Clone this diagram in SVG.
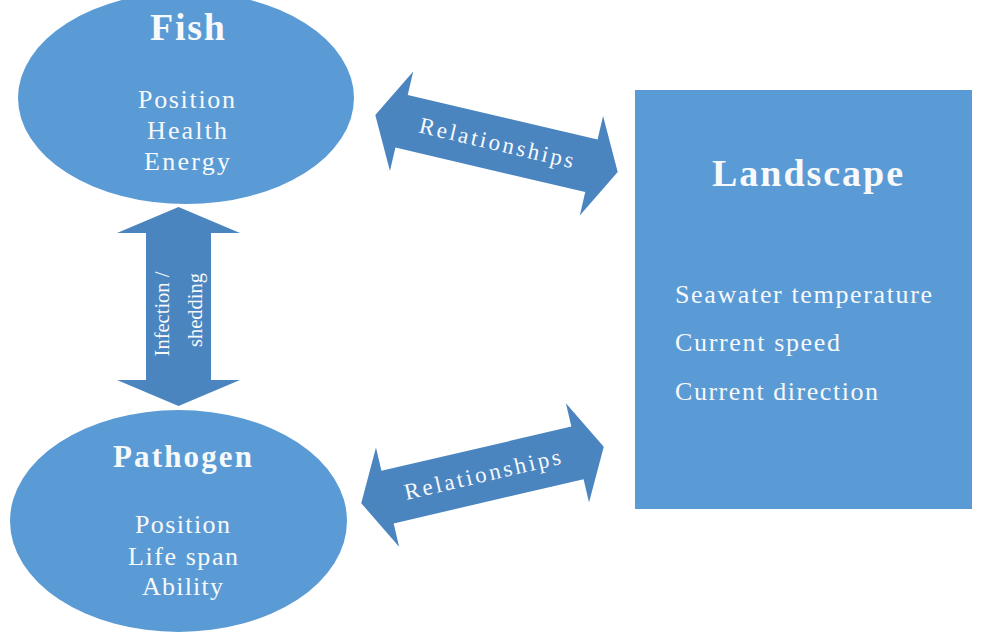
<svg xmlns="http://www.w3.org/2000/svg" width="982" height="636" viewBox="0 0 982 636">
  <defs>
    <style>
      .node { fill: #5b9bd5; }
      .conn { fill: #4a85c0; }
      text { font-family: "Liberation Serif", "Times New Roman", serif; fill: #f7f9fb; }
      .title { font-weight: bold; text-anchor: middle; }
      .body { font-size: 26px; text-anchor: middle; }
      .lbody { font-size: 26px; text-anchor: start; }
      .clabel { font-size: 23px; text-anchor: middle; }
      .vlabel { font-size: 20.5px; text-anchor: middle; }
    </style>
    <path id="diagArrow" d="M -124.5 0 L -97.5 -51 L -97.5 -27 L 97.5 -27 L 97.5 -51 L 124.5 0 L 97.5 51 L 97.5 27 L -97.5 27 L -97.5 51 Z"/>
  </defs>
  <rect width="982" height="636" fill="#ffffff"/>

  <g id="connectors">
    <g id="conn-fish-landscape" transform="translate(496.5 143.5) rotate(13.2)">
      <use href="#diagArrow" class="conn"/>
      <text class="clabel" x="0" y="7" textLength="158" lengthAdjust="spacing">Relationships</text>
    </g>
    <g id="conn-pathogen-landscape" transform="translate(482.5 475) rotate(-13.1)">
      <use href="#diagArrow" class="conn"/>
      <text class="clabel" x="0" y="7" textLength="160" lengthAdjust="spacing">Relationships</text>
    </g>
    <g id="conn-fish-pathogen">
      <path class="conn" d="M 178.5 207 L 240 233 L 211 233 L 211 380 L 240 380 L 178.5 406 L 117 380 L 146 380 L 146 233 L 117 233 Z"/>
      <text class="vlabel" transform="translate(169 314) rotate(-90)" x="0" y="0">Infection /</text>
      <text class="vlabel" transform="translate(202 310) rotate(-90)" x="0" y="0">shedding</text>
    </g>
  </g>

  <g id="fish">
    <ellipse class="node" cx="186" cy="98" rx="168" ry="106"/>
    <text class="title" x="187.5" y="40" font-size="38" textLength="75" lengthAdjust="spacing">Fish</text>
    <text class="body" x="186.5" y="108" textLength="97" lengthAdjust="spacing">Position</text>
    <text class="body" x="187" y="139" textLength="80" lengthAdjust="spacing">Health</text>
    <text class="body" x="187" y="170" textLength="86" lengthAdjust="spacing">Energy</text>
  </g>

  <g id="pathogen">
    <ellipse class="node" cx="178.5" cy="521" rx="168.5" ry="111"/>
    <text class="title" x="182.5" y="467" font-size="31" textLength="139" lengthAdjust="spacing">Pathogen</text>
    <text class="body" x="182.5" y="533" textLength="95" lengthAdjust="spacing">Position</text>
    <text class="body" x="183" y="565" textLength="110" lengthAdjust="spacing">Life span</text>
    <text class="body" x="182.5" y="595" textLength="81" lengthAdjust="spacing">Ability</text>
  </g>

  <g id="landscape">
    <rect class="node" x="635" y="90" width="337" height="419"/>
    <text class="title" x="807.5" y="186" font-size="38" textLength="191" lengthAdjust="spacing">Landscape</text>
    <text class="lbody" x="675" y="303" textLength="257" lengthAdjust="spacing">Seawater temperature</text>
    <text class="lbody" x="675" y="351" textLength="165" lengthAdjust="spacing">Current speed</text>
    <text class="lbody" x="675" y="400" textLength="203" lengthAdjust="spacing">Current direction</text>
  </g>
</svg>
